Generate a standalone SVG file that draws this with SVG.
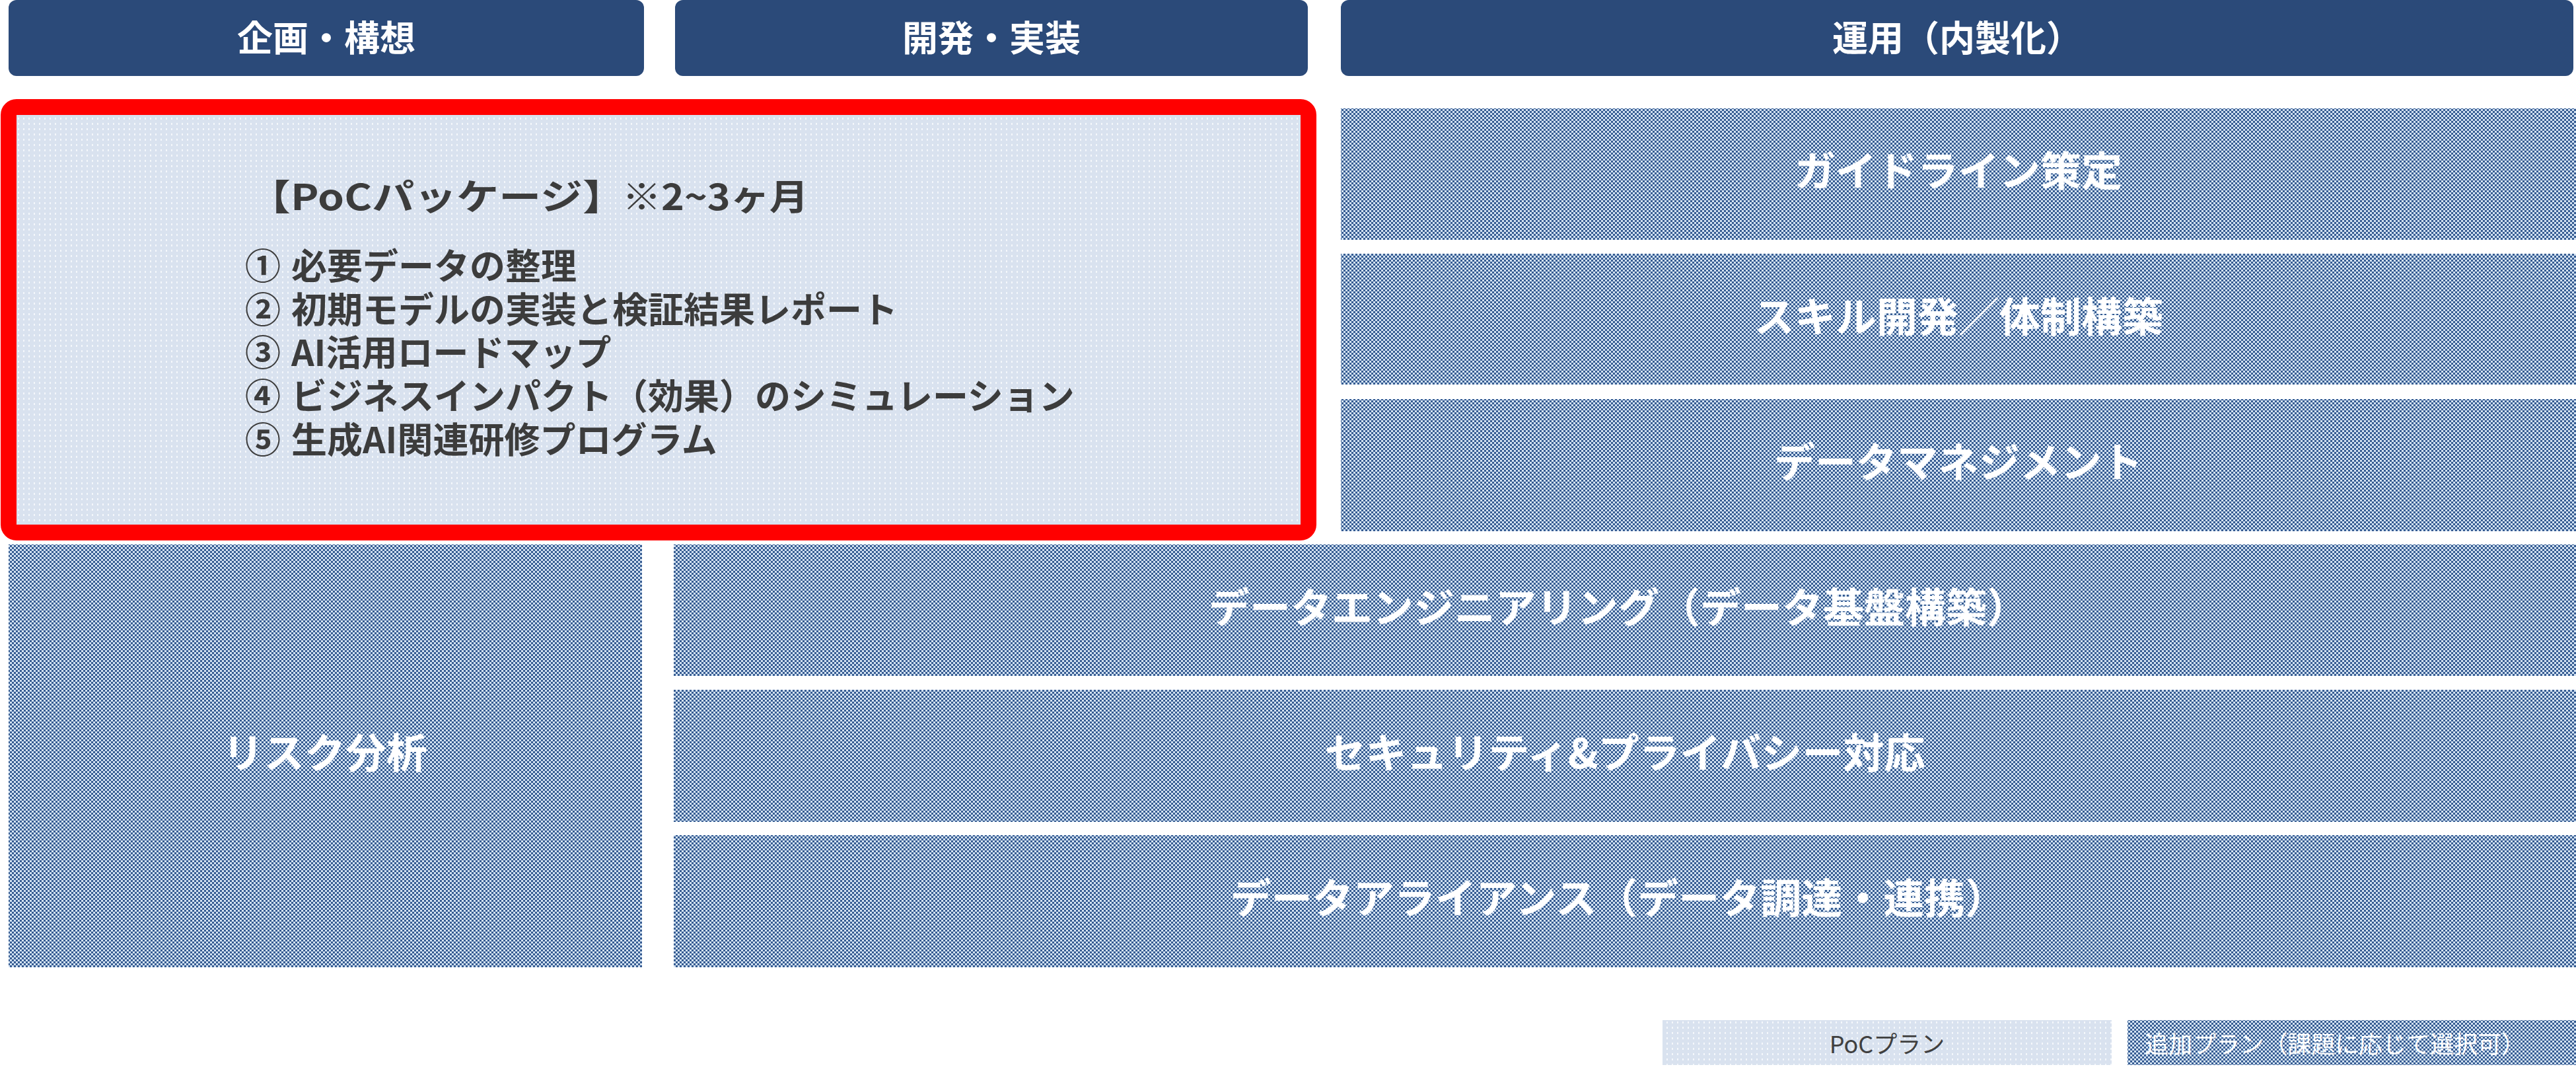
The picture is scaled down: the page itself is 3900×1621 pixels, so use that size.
<svg xmlns="http://www.w3.org/2000/svg" width="3900" height="1621" viewBox="0 0 3900 1621">
<defs>
  <pattern id="chk" width="6" height="6" patternUnits="userSpaceOnUse">
    <rect width="6" height="6" fill="#d3e2f2"/>
    <rect width="3" height="3" fill="#365c92"/>
    <rect x="3" y="3" width="3" height="3" fill="#365c92"/>
  </pattern>
  <pattern id="dots" width="8" height="8" patternUnits="userSpaceOnUse">
    <rect width="8" height="8" fill="#d9e2ef"/>
    <rect x="3" y="2" width="2" height="3" fill="#f4f7fb"/>
  </pattern>
</defs>
<style>
  .hdr { fill: #2b4a79; }
  .hdrtxt { fill: #ffffff; font-family: "Noto Sans CJK JP", "Noto Sans", sans-serif; font-weight: bold; font-size: 54px; text-anchor: middle; dominant-baseline: central; }
  .dark { fill: url(#chk); }
  .lbl { fill: #ffffff; font-family: "Noto Sans CJK JP", "Noto Sans", sans-serif; font-weight: bold; font-size: 62px; text-anchor: middle; dominant-baseline: central; }
  .poc { fill: url(#dots); stroke: #ff0000; stroke-width: 24; }
  .poctxt { fill: #3c3c3c; font-family: "Noto Sans CJK JP", "Noto Sans", sans-serif; font-weight: bold; font-size: 54px; dominant-baseline: central; }
  .legtxt { font-family: "Noto Sans CJK JP", "Noto Sans", sans-serif; font-size: 36px; text-anchor: middle; dominant-baseline: central; }
</style>
<rect width="3900" height="1621" fill="#ffffff"/>

<g id="header-plan">
  <rect class="hdr" x="13" y="0" width="962" height="115" rx="12"/>
  <text class="hdrtxt" x="494" y="54">企画・構想</text>
</g>
<g id="header-dev">
  <rect class="hdr" x="1022" y="0" width="958" height="115" rx="12"/>
  <text class="hdrtxt" x="1501" y="54">開発・実装</text>
</g>
<g id="header-ops">
  <rect class="hdr" x="2030" y="0" width="1866" height="115" rx="12"/>
  <text class="hdrtxt" x="2963" y="54">運用（内製化）</text>
</g>

<g id="poc-package">
  <rect class="poc" x="13" y="162" width="1968" height="644" rx="12"/>
  <text class="poctxt" x="376" y="294" font-size="66" textLength="570" lengthAdjust="spacingAndGlyphs">【PoCパッケージ】</text>
  <text class="poctxt" x="942" y="294" font-size="60" textLength="282" lengthAdjust="spacingAndGlyphs">※2~3ヶ月</text>
  <text class="poctxt" y="399"><tspan x="371">①</tspan><tspan x="441">必要データの整理</tspan></text>
  <text class="poctxt" y="465"><tspan x="371">②</tspan><tspan x="441">初期モデルの実装と検証結果レポート</tspan></text>
  <text class="poctxt" y="530"><tspan x="371">③</tspan><tspan x="441">AI活用ロードマップ</tspan></text>
  <text class="poctxt" y="596"><tspan x="371">④</tspan><tspan x="441">ビジネスインパクト（効果）のシミュレーション</tspan></text>
  <text class="poctxt" y="662"><tspan x="371">⑤</tspan><tspan x="441">生成AI関連研修プログラム</tspan></text>
</g>

<g id="guideline">
  <rect class="dark" x="2030" y="164" width="1870" height="199"/>
  <text class="lbl" x="2965" y="255">ガイドライン策定</text>
</g>
<g id="skill">
  <rect class="dark" x="2030" y="384" width="1870" height="198"/>
  <text class="lbl" x="2965" y="476">スキル開発／体制構築</text>
</g>
<g id="data-management">
  <rect class="dark" x="2030" y="604" width="1870" height="200"/>
  <text class="lbl" x="2965" y="696">データマネジメント</text>
</g>
<g id="risk">
  <rect class="dark" x="13" y="824" width="959" height="640"/>
  <text class="lbl" x="492" y="1136">リスク分析</text>
</g>
<g id="data-engineering">
  <rect class="dark" x="1020" y="824" width="2880" height="199"/>
  <text class="lbl" x="2450" y="916">データエンジニアリング（データ基盤構築）</text>
</g>
<g id="security">
  <rect class="dark" x="1020" y="1044" width="2880" height="200"/>
  <text class="lbl" x="2460" y="1136">セキュリティ&amp;プライバシー対応</text>
</g>
<g id="data-alliance">
  <rect class="dark" x="1020" y="1264" width="2880" height="200"/>
  <text class="lbl" x="2450" y="1356">データアライアンス（データ調達・連携）</text>
</g>

<g id="legend-poc">
  <rect x="2517" y="1544" width="680" height="68" fill="url(#dots)"/>
  <text class="legtxt" x="2857" y="1578" fill="#404040">PoCプラン</text>
</g>
<g id="legend-additional">
  <rect x="3221" y="1544" width="679" height="68" fill="url(#chk)"/>
  <text class="legtxt" x="3535" y="1578" font-size="38" fill="#ffffff">追加プラン（課題に応じて選択可）</text>
</g>

<g id="connectors"></g>
</svg>
